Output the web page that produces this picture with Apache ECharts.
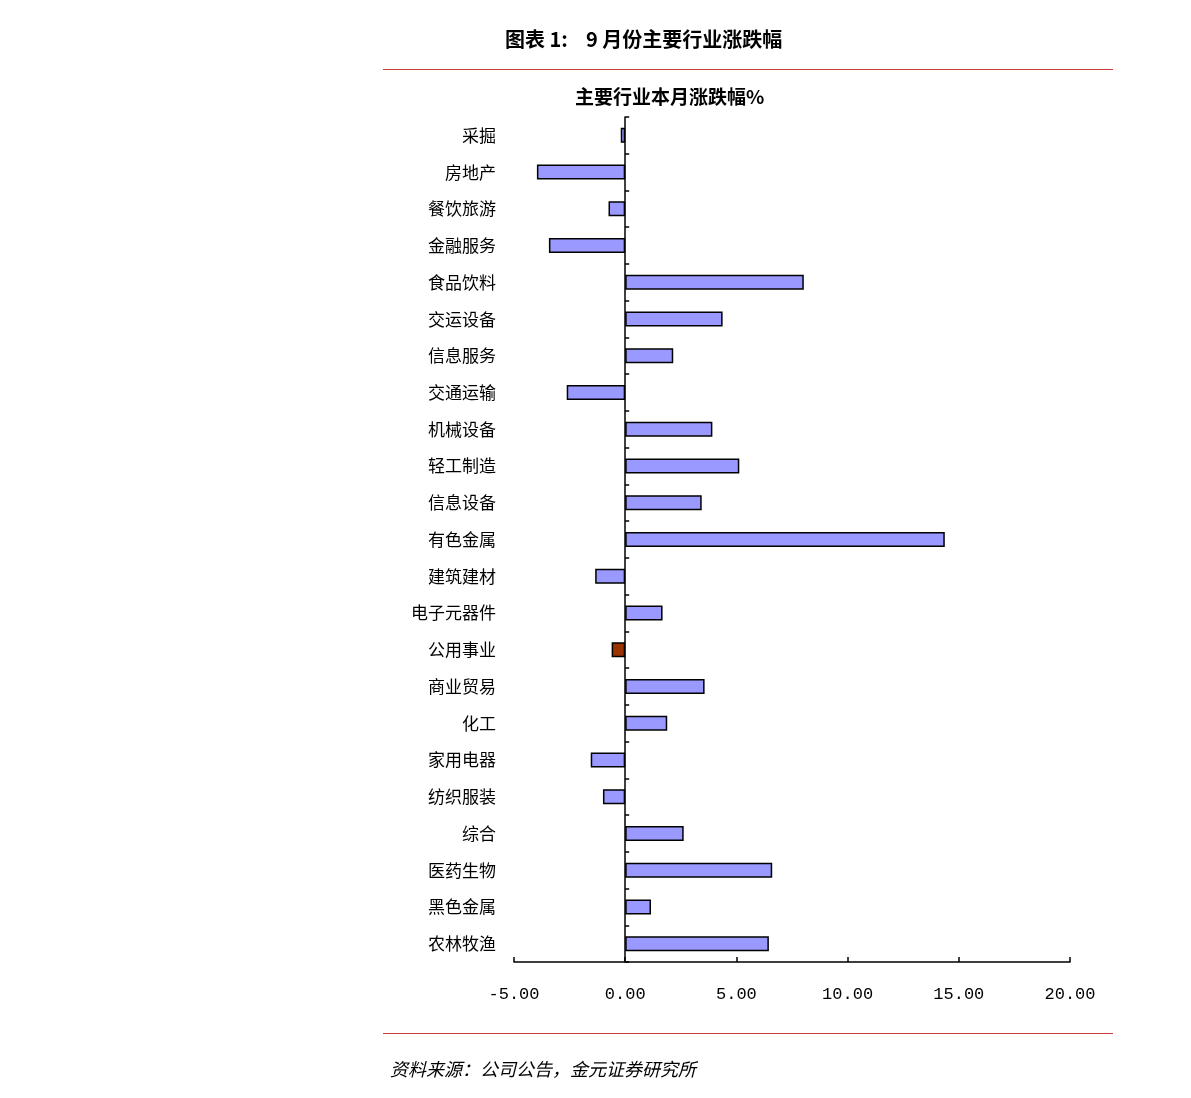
<!DOCTYPE html>
<html>
<head>
<meta charset="utf-8">
<script src="https://cdn.jsdelivr.net/npm/echarts@6/dist/echarts.min.js"></script>
<style>
html,body{margin:0;padding:0;background:#fff;}
#chart{width:1191px;height:1098px;}
</style>
</head>
<body>
<div id="chart"></div>
<script>
const categories = ['采掘','房地产','餐饮旅游','金融服务','食品饮料','交运设备','信息服务','交通运输','机械设备','轻工制造','信息设备','有色金属','建筑建材','电子元器件','公用事业','商业贸易','化工','家用电器','纺织服装','综合','医药生物','黑色金属','农林牧渔'];
const values = [-0.2,-3.97,-0.75,-3.43,8.03,4.38,2.16,-2.63,3.92,5.13,3.44,14.37,-1.35,1.68,-0.61,3.57,1.89,-1.55,-1.0,2.63,6.61,1.16,6.46];
const highlight = '公用事业';
const xTicks = [-5, 0, 5, 10, 15, 20];

const mainTitle = '图表 1:    9 月份主要行业涨跌幅';
const chartTitle = '主要行业本月涨跌幅%';
const sourceText = '资料来源：公司公告，金元证券研究所';

const chart = echarts.init(document.getElementById('chart'), null, {renderer:'canvas'});
const cjk = '"Noto Sans CJK SC", sans-serif';

chart.setOption({
  backgroundColor:'#ffffff',
  animation:false,
  title:[
    {text: mainTitle, left: 500, top: 24, textStyle:{fontFamily:cjk, fontSize:20, fontWeight:'bold', color:'#000'}},
    {text: chartTitle, left: 570, top: 82, textStyle:{fontFamily:cjk, fontSize:19, fontWeight:'bold', color:'#000'}},
    {text: sourceText, left: 385, top: 1055, textStyle:{fontFamily:cjk, fontSize:18, fontStyle:'italic', fontWeight:'normal', color:'#000'}}
  ],
  graphic:[
    {type:'line', shape:{x1:383,y1:69.5,x2:1113,y2:69.5}, style:{stroke:'#c83c3c', lineWidth:1.2}},
    {type:'line', shape:{x1:383,y1:1033.5,x2:1113,y2:1033.5}, style:{stroke:'#c83c3c', lineWidth:1.2}}
  ],
  grid:{left:514, right:121, top:117, bottom:136, containLabel:false},
  xAxis:{
    type:'value', min:xTicks[0], max:xTicks[xTicks.length-1], interval:5,
    axisLine:{show:true, onZero:false, lineStyle:{color:'#000', width:1.5}},
    axisTick:{show:true, inside:true, length:5, lineStyle:{color:'#000', width:1.5}},
    splitLine:{show:false},
    axisLabel:{margin:24, fontFamily:'"Liberation Mono", monospace', fontSize:17, color:'#000',
      formatter:v=>v.toFixed(2)}
  },
  yAxis:[
    {
      type:'category', data:categories, inverse:true, position:'left',
      axisLine:{show:false, onZero:false}, axisTick:{show:false},
      axisLabel:{margin:18, fontFamily:cjk, fontSize:17, color:'#000'}
    },
    {
      type:'category', data:categories, inverse:true, position:'left',
      axisLine:{show:true, onZero:true, onZeroAxisIndex:0, lineStyle:{color:'#000', width:1.5}},
      axisTick:{show:true, inside:true, length:4, lineStyle:{color:'#000', width:1.5}},
      axisLabel:{show:false}
    }
  ],
  series:[{
    type:'bar', yAxisIndex:0, barWidth:15,
    data: values.map((v,i)=>({value:v, itemStyle:{color: categories[i]===highlight ? '#993300' : '#9999ff'}})),
    itemStyle:{borderColor:'#000', borderWidth:1.5}
  }]
});
</script>
</body>
</html>
